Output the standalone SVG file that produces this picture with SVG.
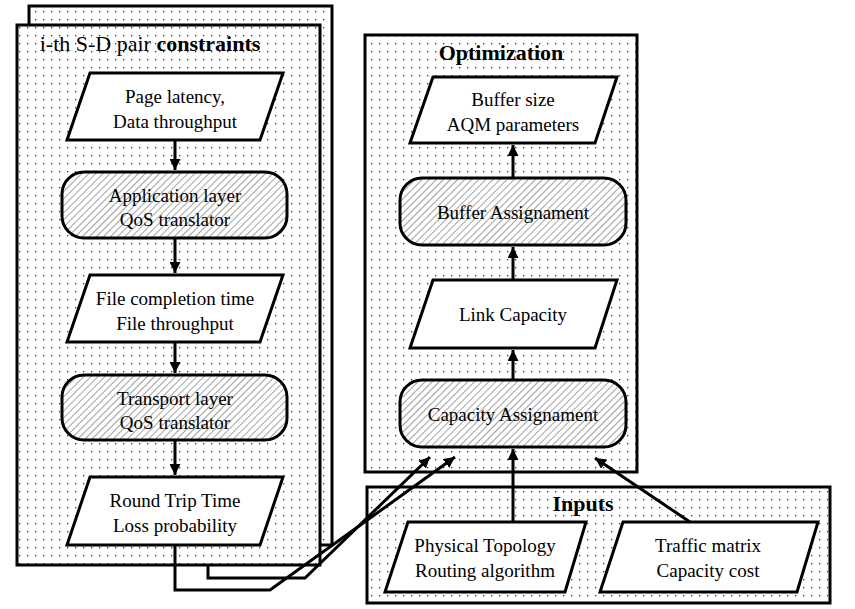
<svg xmlns="http://www.w3.org/2000/svg" width="855" height="609" viewBox="0 0 855 609">
<defs>
<pattern id="dots" width="8" height="8" patternUnits="userSpaceOnUse"><rect width="8" height="8" fill="#fff"/><rect x="3" y="3" width="1.3" height="1.3" fill="#333"/></pattern>
<pattern id="hatch" width="5" height="5" patternUnits="userSpaceOnUse" patternTransform="rotate(45)"><rect width="5" height="5" fill="#fff"/><line x1="0" y1="0" x2="0" y2="5" stroke="#444" stroke-width="1"/></pattern>
<marker id="ah" viewBox="0 0 10 10" refX="10" refY="5" markerWidth="11" markerHeight="11" markerUnits="userSpaceOnUse" orient="auto"><path d="M0,0 L10,5 L0,10 z" fill="#000"/></marker>
</defs>
<style>
.frame{fill:url(#dots);stroke:#000;stroke-width:3}
.para{fill:#fff;stroke:#000;stroke-width:3}
.proc{fill:url(#hatch);stroke:#000;stroke-width:3}
.t{font-family:'Liberation Serif','DejaVu Serif',serif;font-size:19px;text-anchor:middle;fill:#000}
.h{font-size:22px}
.c{fill:none;stroke:#000;stroke-width:3}
</style>
<rect width="855" height="609" fill="#fff"/>
<g id="constraints-back"><rect class="frame" x="29" y="6" width="303" height="539"/></g>
<g id="constraints"><rect class="frame" x="17" y="25" width="303" height="540"/>
<text class="t h" x="150" y="51">i-th S-D pair <tspan font-weight="bold">constraints</tspan></text></g>
<g id="optimization"><rect class="frame" x="365" y="35" width="272" height="437"/>
<text class="t h" x="501" y="60" font-weight="bold">Optimization</text></g>
<g id="inputs"><rect class="frame" x="367" y="487" width="463" height="116"/>
<text class="t h" x="583" y="511" font-weight="bold">Inputs</text></g>

<g id="n1"><polygon class="para" points="90,73 283,73 260,140 67,140"/><text class="t" x="175" y="103">Page latency,</text><text class="t" x="175" y="128">Data throughput</text></g>
<g id="n2"><rect class="proc" x="62" y="172" width="225" height="66" rx="22"/><text class="t" x="175" y="202">Application layer</text><text class="t" x="175" y="226">QoS translator</text></g>
<g id="n3"><polygon class="para" points="90,275 283,275 260,342 67,342"/><text class="t" x="175" y="305">File completion time</text><text class="t" x="175" y="330">File throughput</text></g>
<g id="n4"><rect class="proc" x="62" y="375" width="225" height="65" rx="22"/><text class="t" x="175" y="405">Transport layer</text><text class="t" x="175" y="429">QoS translator</text></g>
<g id="n5"><polygon class="para" points="90,477 283,477 260,545 67,545"/><text class="t" x="175" y="507">Round Trip Time</text><text class="t" x="175" y="532">Loss probability</text></g>

<g id="o1"><polygon class="para" points="433,77 617,77 595,143 410,143"/><text class="t" x="513" y="106">Buffer size</text><text class="t" x="513" y="131">AQM parameters</text></g>
<g id="o2"><rect class="proc" x="400" y="178" width="226" height="67" rx="22"/><text class="t" x="513" y="219">Buffer Assignament</text></g>
<g id="o3"><polygon class="para" points="433,280 617,280 595,348 410,348"/><text class="t" x="513" y="321">Link Capacity</text></g>
<g id="o4"><rect class="proc" x="400" y="380" width="226" height="67" rx="22"/><text class="t" x="513" y="421">Capacity Assignament</text></g>

<g id="i1"><polygon class="para" points="408,522 586,522 565,592 385,592"/><text class="t" x="485" y="552">Physical Topology</text><text class="t" x="485" y="577">Routing algorithm</text></g>
<g id="i2"><polygon class="para" points="623,522 818,522 797,592 600,592"/><text class="t" x="708" y="552">Traffic matrix</text><text class="t" x="708" y="577">Capacity cost</text></g>

<g id="connectors">
<line class="c" x1="175" y1="140" x2="175" y2="170" marker-end="url(#ah)"/>
<line class="c" x1="175" y1="238" x2="175" y2="273" marker-end="url(#ah)"/>
<line class="c" x1="175" y1="342" x2="175" y2="373" marker-end="url(#ah)"/>
<line class="c" x1="175" y1="440" x2="175" y2="475" marker-end="url(#ah)"/>
<line class="c" x1="513" y1="178" x2="513" y2="145" marker-end="url(#ah)"/>
<line class="c" x1="513" y1="280" x2="513" y2="247" marker-end="url(#ah)"/>
<line class="c" x1="513" y1="380" x2="513" y2="350" marker-end="url(#ah)"/>
<line class="c" x1="513" y1="522" x2="513" y2="449" marker-end="url(#ah)"/>
<line class="c" x1="690" y1="522" x2="595" y2="458" marker-end="url(#ah)"/>
<polyline class="c" points="175,545 175,590 270,590 455,457" marker-end="url(#ah)"/>
<polyline class="c" points="208,565 208,578 305,578 430,457" marker-end="url(#ah)"/>
</g>
</svg>
